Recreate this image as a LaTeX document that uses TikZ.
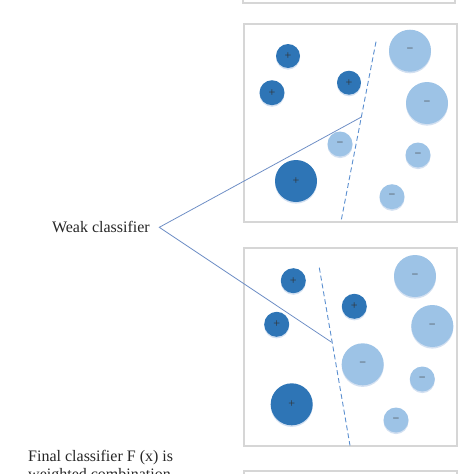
\documentclass[tikz,border=0pt]{standalone}
\usepackage{fontspec}
\setmainfont{Liberation Serif}
\definecolor{darkb}{HTML}{2E75B6}
\definecolor{lightb}{HTML}{9DC3E6}
\definecolor{shadowb}{HTML}{D3E0F1}
\definecolor{framegray}{HTML}{D6D6D6}
\definecolor{linkb}{HTML}{6F8FC6}
\definecolor{dashb}{HTML}{5B8FD0}
\tikzset{
  frame/.style={draw=framegray, line width=1.5pt},
  ptpos/.style={circle, fill=darkb, inner sep=0pt, text=black!80, font=\fontsize{12}{12}\selectfont},
  ptneg/.style={circle, fill=lightb, inner sep=0pt, text=black!75, font=\fontsize{12}{12}\selectfont},
  sep/.style={draw=dashb, line width=0.9pt, dash pattern=on 5pt off 3pt},
  link/.style={draw=linkb, line width=0.8pt},
  lbl/.style={font=\fontsize{16}{18}\selectfont, text=black!85, inner sep=0pt},
}
\begin{document}
\begin{tikzpicture}[x=1pt, y=-1pt]
\useasboundingbox (0,0) rectangle (474,474);
% frames
\draw[frame] (243,-200) rectangle (455,3);
\draw[frame] (244,24) rectangle (457,222);
\draw[frame] (244,248) rectangle (457,446);
\draw[frame] (244,471) rectangle (457,700);
% box 1 points
\fill[shadowb] (288,57.6) circle (12);
\node[ptpos, minimum size=24pt] (a1) at (288,56) {+};
\fill[shadowb] (272,94.3) circle (12.5);
\node[ptpos, minimum size=25pt] (a2) at (272,92.7) {+};
\fill[shadowb] (349,84.3) circle (12);
\node[ptpos, minimum size=24pt] (a3) at (349,82.7) {+};
\fill[shadowb] (296,182.6) circle (21);
\node[ptpos, minimum size=42pt] (a4) at (296,181) {+};
\fill[shadowb] (340,145.6) circle (12.5);
\node[ptneg, minimum size=25pt] (a5) at (340,144) {−};
\fill[shadowb] (410,52.3) circle (21);
\node[ptneg, minimum size=42pt] (a6) at (410,50.7) {−};
\fill[shadowb] (427,104.6) circle (21);
\node[ptneg, minimum size=42pt] (a7) at (427,103) {−};
\fill[shadowb] (418,156.6) circle (12.5);
\node[ptneg, minimum size=25pt] (a8) at (418,155) {−};
\fill[shadowb] (392,198.3) circle (12.5);
\node[ptneg, minimum size=25pt] (a9) at (392,196.7) {−};
\coordinate (s1a) at (376,41.7);
\coordinate (s1b) at (341,221.5);
\draw[sep] (s1a) -- (s1b);
% box 2 points
\fill[shadowb] (293.3,282.3) circle (12.5);
\node[ptpos, minimum size=25pt] (b1) at (293.3,280.7) {+};
\fill[shadowb] (276.7,325.9) circle (12.5);
\node[ptpos, minimum size=25pt] (b2) at (276.7,324.3) {+};
\fill[shadowb] (354.3,307.9) circle (12.5);
\node[ptpos, minimum size=25pt] (b3) at (354.3,306.3) {+};
\fill[shadowb] (291.7,405.9) circle (21);
\node[ptpos, minimum size=42pt] (b4) at (291.7,404.3) {+};
\fill[shadowb] (362.7,365.9) circle (21);
\node[ptneg, minimum size=42pt] (b5) at (362.7,364.3) {−};
\fill[shadowb] (415,277.6) circle (21);
\node[ptneg, minimum size=42pt] (b6) at (415,276) {−};
\fill[shadowb] (432.3,327.6) circle (21);
\node[ptneg, minimum size=42pt] (b7) at (432.3,326) {−};
\fill[shadowb] (422.3,380.6) circle (12.5);
\node[ptneg, minimum size=25pt] (b8) at (422.3,379) {−};
\fill[shadowb] (396,421.6) circle (12.5);
\node[ptneg, minimum size=25pt] (b9) at (396,420) {−};
\coordinate (s2a) at (319.3,267.7);
\coordinate (s2b) at (350,445.5);
\draw[sep] (s2a) -- (s2b);
% labels
\node[lbl, anchor=base east] (wc) at (150,232.5) {Weak classifier};
\coordinate (tip) at (159.3,227.3);
\coordinate (e1) at (362,116.7);
\coordinate (e2) at (331.7,342.3);
\draw[link] (e1) -- (tip) -- (e2);
\node[lbl, anchor=base west, align=left] (fc) at (28,479.5) {Final classifier F (x) is\\weighted combination};
\end{tikzpicture}
\end{document}
